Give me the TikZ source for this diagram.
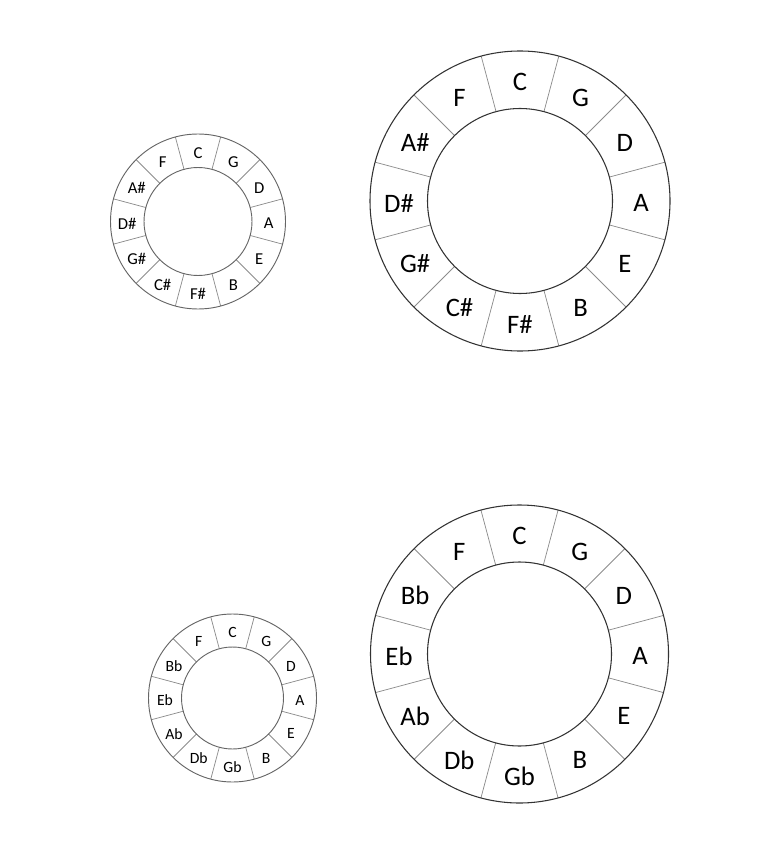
\documentclass[tikz,border=0pt]{standalone}
\usepackage{fontspec}
\setmainfont{Carlito}
\usetikzlibrary{calc}
\begin{document}
\begin{tikzpicture}[x=0.75pt,y=0.75pt,yscale=-1,xscale=1,
  ring/.style={draw=black!80,line width=0.8pt},
  smallring/.style={draw=black!60,line width=0.7pt},
  spoke/.style={draw=black!45,line width=0.55pt},
  note/.style={inner sep=0.75pt,anchor=center}]
\useasboundingbox (0,0) rectangle (768,866);
% Small circle, sharps
\coordinate (tl) at (198,221.5);
\foreach \n [count=\i from 0] in {C,G,D,A,E,B,F\#,C\#,G\#,D\#,A\#,F} {
  \draw[spoke] ($(tl)+(-75+30*\i:54)$) -- ($(tl)+(-75+30*\i:87.5)$);
  \node[note,font=\fontsize{12.5}{14}\selectfont] (tl-\i) at ($(tl)+(-90+30*\i:70.75)+(0,2)$) {\n};
}
\draw[smallring] (tl) circle (87.5);
\draw[smallring] (tl) circle (54);
% Large circle, sharps
\coordinate (tr) at (520,201);
\foreach \n [count=\i from 0] in {C,G,D,A,E,B,F\#,C\#,G\#,D\#,A\#,F} {
  \draw[spoke] ($(tr)+(-75+30*\i:92.5)$) -- ($(tr)+(-75+30*\i:150)$);
  \node[note,font=\fontsize{20}{24}\selectfont] (tr-\i) at ($(tr)+(-90+30*\i:121)+(0,2)$) {\n};
}
\draw[ring] (tr) circle (150);
\draw[ring] (tr) circle (92.5);
% Small circle, flats
\coordinate (bl) at (232.5,698);
\foreach \n [count=\i from 0] in {C,G,D,A,E,B,Gb,Db,Ab,Eb,Bb,F} {
  \draw[spoke] ($(bl)+(-75+30*\i:51)$) -- ($(bl)+(-75+30*\i:84)$);
  \node[note,font=\fontsize{11.75}{13}\selectfont] (bl-\i) at ($(bl)+(-90+30*\i:67.5)+(0,2)$) {\n};
}
\draw[smallring] (bl) circle (84);
\draw[smallring] (bl) circle (51);
% Large circle, flats
\coordinate (br) at (519.5,654);
\foreach \n [count=\i from 0] in {C,G,D,A,E,B,Gb,Db,Ab,Eb,Bb,F} {
  \draw[spoke] ($(br)+(-75+30*\i:92)$) -- ($(br)+(-75+30*\i:149)$);
  \node[note,font=\fontsize{20}{24}\selectfont] (br-\i) at ($(br)+(-90+30*\i:120.5)+(0,2)$) {\n};
}
\draw[ring] (br) circle (149);
\draw[ring] (br) circle (92);
\end{tikzpicture}
\end{document}
